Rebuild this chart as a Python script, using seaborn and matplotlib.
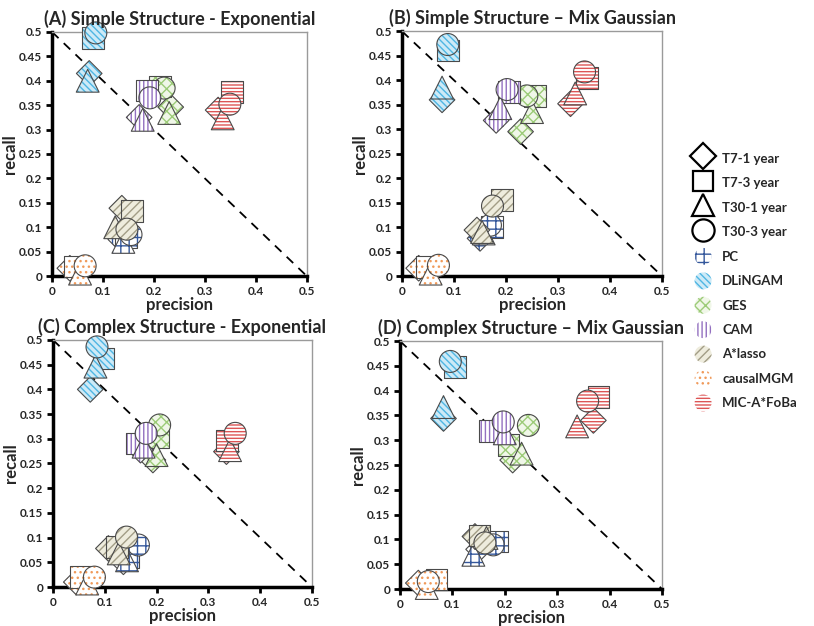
import pandas as pd
import matplotlib.pyplot as plt
import matplotlib.patches as mpatches
from matplotlib.lines import Line2D
from matplotlib.legend_handler import HandlerPatch
import seaborn as sns


# ==========================================================
# Data
# ==========================================================

methods = ["PC", "DLiNGAM", "GES", "CAM", "A*lasso", "causalMGM", "MIC-A*FoBa"]
settings = ["T7-1 year", "T7-3 year", "T30-1 year", "T30-3 year"]

# one row per method, columns follow `settings`
prec_a = [[0.135, 0.145, 0.140, 0.155],
          [0.073, 0.080, 0.070, 0.086],
          [0.233, 0.212, 0.230, 0.220],
          [0.171, 0.186, 0.178, 0.192],
          [0.137, 0.157, 0.124, 0.147],
          [0.035, 0.045, 0.055, 0.065],
          [0.326, 0.353, 0.335, 0.349]]
rec_a = [[0.075, 0.080, 0.070, 0.085],
         [0.415, 0.488, 0.400, 0.498],
         [0.346, 0.388, 0.334, 0.385],
         [0.325, 0.380, 0.320, 0.365],
         [0.139, 0.133, 0.100, 0.096],
         [0.016, 0.020, 0.005, 0.021],
         [0.340, 0.377, 0.323, 0.352]]

prec_b = [[0.150, 0.173, 0.157, 0.170],
          [0.077, 0.088, 0.077, 0.088],
          [0.228, 0.256, 0.250, 0.240],
          [0.181, 0.206, 0.189, 0.202],
          [0.144, 0.192, 0.154, 0.174],
          [0.032, 0.048, 0.055, 0.070],
          [0.324, 0.356, 0.333, 0.351]]
rec_b = [[0.077, 0.100, 0.087, 0.104],
         [0.360, 0.461, 0.385, 0.473],
         [0.295, 0.368, 0.335, 0.368],
         [0.318, 0.376, 0.343, 0.381],
         [0.094, 0.155, 0.090, 0.143],
         [0.016, 0.019, 0.005, 0.022],
         [0.352, 0.405, 0.373, 0.417]]

prec_c = [[0.136, 0.146, 0.143, 0.165],
          [0.072, 0.098, 0.082, 0.085],
          [0.193, 0.204, 0.200, 0.206],
          [0.169, 0.162, 0.175, 0.180],
          [0.107, 0.124, 0.127, 0.142],
          [0.045, 0.053, 0.066, 0.080],
          [0.335, 0.336, 0.342, 0.352]]
rec_c = [[0.051, 0.061, 0.054, 0.085],
         [0.400, 0.463, 0.446, 0.486],
         [0.257, 0.304, 0.267, 0.328],
         [0.277, 0.290, 0.284, 0.311],
         [0.078, 0.081, 0.068, 0.101],
         [0.010, 0.020, 0.007, 0.020],
         [0.274, 0.297, 0.277, 0.311]]

prec_d = [[0.150, 0.185, 0.140, 0.178],
          [0.083, 0.105, 0.083, 0.096],
          [0.215, 0.207, 0.232, 0.245],
          [0.190, 0.172, 0.200, 0.197],
          [0.143, 0.152, 0.165, 0.162],
          [0.035, 0.070, 0.051, 0.054],
          [0.369, 0.379, 0.338, 0.358]]
rec_d = [[0.080, 0.096, 0.069, 0.089],
         [0.344, 0.448, 0.367, 0.459],
         [0.260, 0.290, 0.273, 0.330],
         [0.330, 0.319, 0.314, 0.337],
         [0.106, 0.108, 0.103, 0.093],
         [0.012, 0.019, 0.002, 0.015],
         [0.340, 0.387, 0.328, 0.379]]

titles = ["(A) Simple Structure - Exponential",
          "(B) Simple Structure \u2013 Mix Gaussian",
          "(C) Complex Structure - Exponential",
          "(D) Complex Structure \u2013 Mix Gaussian"]

x_ticks = [0, 0.1, 0.2, 0.3, 0.4, 0.5]
y_ticks = [0, 0.05, 0.1, 0.15, 0.2, 0.25, 0.3, 0.35, 0.4, 0.45, 0.5]


# ==========================================================
# Styles
# ==========================================================

markers = {"T7-1 year": "D", "T7-3 year": "s",
           "T30-1 year": "^", "T30-3 year": "o"}
marker_size = {"D": 170, "s": 240, "^": 270, "o": 250}
legend_ms = {"D": 13.5, "s": 15, "^": 16, "o": 16}

# face colour, hatch colour, hatch pattern
method_style = {
    "PC":         ("#ffffff", "#35589c", "++"),
    "DLiNGAM":    ("#cdeaf7", "#4fb6e3", "\\\\\\\\\\"),
    "GES":        ("#f0f7e8", "#9ccb78", "xxx"),
    "CAM":        ("#ffffff", "#9370c0", "||||"),
    "A*lasso":    ("#eeecdd", "#a29d86", "////"),
    "causalMGM":  ("#ffffff", "#f09a5a", "..."),
    "MIC-A*FoBa": ("#ffffff", "#dd5555", "-----"),
}

edge_col = "#4a4a4a"


def to_frame(prec, rec):
    rows = []
    for i, m in enumerate(methods):
        for j, s in enumerate(settings):
            rows.append({"method": m, "setting": s,
                         "precision": prec[i][j], "recall": rec[i][j]})
    return pd.DataFrame(rows)


panels = [to_frame(prec_a, rec_a), to_frame(prec_b, rec_b),
          to_frame(prec_c, rec_c), to_frame(prec_d, rec_d)]


# ==========================================================
# Figure
# ==========================================================

sns.set_theme(style="white")
plt.rcParams["font.family"] = ["Lato", "DejaVu Sans"]
plt.rcParams["font.weight"] = "bold"
plt.rcParams["hatch.linewidth"] = 1.0

fig = plt.figure(figsize=(8.14, 6.26), dpi=100)

positions = [
    [0.0639, 0.559, 0.313, 0.390],
    [0.4939, 0.559, 0.3194, 0.391],
    [0.0651, 0.0623, 0.318, 0.3946],
    [0.4914, 0.0591, 0.3219, 0.396],
]

for k, df in enumerate(panels):
    ax = fig.add_axes(positions[k])

    # reference line precision + recall = 0.5
    ax.plot([0, 0.5], [0.5, 0], color="black", lw=1.3,
            linestyle=(0, (5, 4)), zorder=1)

    for m in methods:
        face, hcol, hatch = method_style[m]
        for s in settings:
            sub = df[(df["method"] == m) & (df["setting"] == s)]
            mk = markers[s]
            # hatched fill (hatch takes the edge colour, so no outline here)
            sns.scatterplot(
                data=sub, x="precision", y="recall",
                marker=mk, s=marker_size[mk],
                color=face, edgecolor=hcol, linewidth=0,
                hatch=hatch, clip_on=False, zorder=3,
                legend=False, ax=ax
            )
            # grey outline on top
            sns.scatterplot(
                data=sub, x="precision", y="recall",
                marker=mk, s=marker_size[mk],
                facecolor="none", edgecolor=edge_col, linewidth=0.8,
                clip_on=False, zorder=3,
                legend=False, ax=ax
            )

    ax.set_xlim(0, 0.5)
    ax.set_ylim(0, 0.5)
    ax.set_xticks(x_ticks)
    ax.set_yticks(y_ticks)
    ax.set_xticklabels([f"{v:g}" for v in x_ticks], fontsize=8.5,
                       fontweight="bold")
    ax.set_yticklabels([f"{v:g}" for v in y_ticks], fontsize=8.5,
                       fontweight="bold")
    ax.tick_params(axis="both", direction="out", length=4, width=2,
                   color="black", pad=3, left=True, bottom=True)

    for side in ["left", "bottom"]:
        ax.spines[side].set_color("black")
        ax.spines[side].set_linewidth(2.5)
    for side in ["top", "right"]:
        ax.spines[side].set_color("#9a9a9a")
        ax.spines[side].set_linewidth(1.0)

    ax.set_title(titles[k], fontsize=13, fontweight="bold", pad=5)
    ax.set_xlabel("precision", fontsize=12, fontweight="bold", labelpad=0)
    ax.set_ylabel("recall", fontsize=12, fontweight="bold", labelpad=1)


# ==========================================================
# Legend
# ==========================================================

def circle_patch(legend, orig_handle, xdescent, ydescent, width, height,
                 fontsize):
    d = min(width, height) * 0.95
    return mpatches.Ellipse((width / 2 - xdescent, height / 2 - ydescent),
                            d, d)


handles = []
for s in settings:
    mk = markers[s]
    handles.append(Line2D([], [], marker=mk, linestyle="none",
                          markersize=legend_ms[mk], markerfacecolor="white",
                          markeredgecolor="black", markeredgewidth=1.6))
for m in methods:
    face, hcol, hatch = method_style[m]
    handles.append(mpatches.Patch(facecolor=face, edgecolor=hcol,
                                  hatch=hatch, linewidth=0))

fig.legend(
    handles,
    settings + methods,
    loc="upper left",
    bbox_to_anchor=(680 / 814, 1 - 138 / 626),
    frameon=False,
    prop={"size": 9.5, "weight": "bold"},
    handlelength=1.7,
    handleheight=1.7,
    labelspacing=0.5,
    handletextpad=0.6,
    handler_map={mpatches.Patch: HandlerPatch(patch_func=circle_patch)},
)

fig.savefig("out.png", dpi=100)
